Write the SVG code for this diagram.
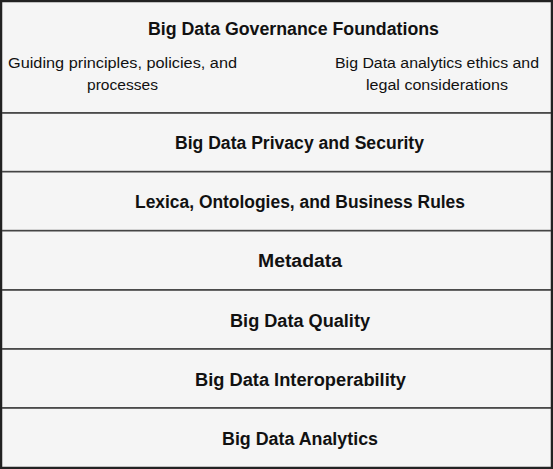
<svg xmlns="http://www.w3.org/2000/svg" width="553" height="469" viewBox="0 0 553 469">
<style>
.layer{fill:#f5f5f5;stroke:#444;stroke-width:1.6}
.t{font-family:"Liberation Sans",Arial,sans-serif;font-weight:bold;font-size:17.5px;fill:#111;text-anchor:middle}
.s{font-family:"Liberation Sans",Arial,sans-serif;font-size:15.5px;fill:#111;text-anchor:middle}
</style>
<rect x="0" y="0" width="553" height="469" fill="#ffffff"/>
<g id="governance">
<rect class="layer" x="1.5" y="1.5" width="550" height="111.5"/>
<text class="t" x="293.5" y="35" textLength="291" lengthAdjust="spacingAndGlyphs">Big Data Governance Foundations</text>
<text class="s" x="122.5" y="68.3" textLength="229" lengthAdjust="spacingAndGlyphs">Guiding principles, policies, and</text>
<text class="s" x="122.5" y="90" textLength="71" lengthAdjust="spacingAndGlyphs">processes</text>
<text class="s" x="437" y="68.3" textLength="204" lengthAdjust="spacingAndGlyphs">Big Data analytics ethics and</text>
<text class="s" x="437" y="90" textLength="142" lengthAdjust="spacingAndGlyphs">legal considerations</text>
</g>
<g id="privacy">
<rect class="layer" x="1.5" y="113" width="550" height="58.7"/>
<text class="t" x="299.5" y="149.3" textLength="249" lengthAdjust="spacingAndGlyphs">Big Data Privacy and Security</text>
</g>
<g id="lexica">
<rect class="layer" x="1.5" y="171.7" width="550" height="59"/>
<text class="t" x="300" y="208.2" textLength="330" lengthAdjust="spacingAndGlyphs">Lexica, Ontologies, and Business Rules</text>
</g>
<g id="metadata">
<rect class="layer" x="1.5" y="230.7" width="550" height="59.3"/>
<text class="t" x="300" y="267.4" textLength="84" lengthAdjust="spacingAndGlyphs">Metadata</text>
</g>
<g id="quality">
<rect class="layer" x="1.5" y="290" width="550" height="59"/>
<text class="t" x="300" y="326.5" textLength="140" lengthAdjust="spacingAndGlyphs">Big Data Quality</text>
</g>
<g id="interoperability">
<rect class="layer" x="1.5" y="349" width="550" height="59"/>
<text class="t" x="300.5" y="385.5" textLength="211" lengthAdjust="spacingAndGlyphs">Big Data Interoperability</text>
</g>
<g id="analytics">
<rect class="layer" x="1.5" y="408" width="550" height="59.5"/>
<text class="t" x="300" y="444.7" textLength="156" lengthAdjust="spacingAndGlyphs">Big Data Analytics</text>
</g>
<g id="connectors"></g>
<rect x="1" y="1" width="551" height="467" fill="none" stroke="#222" stroke-width="2"/>
</svg>
